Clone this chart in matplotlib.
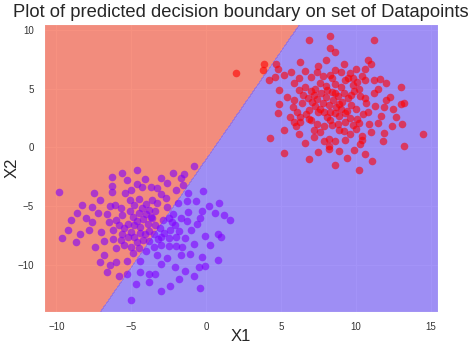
import numpy as np
import matplotlib
matplotlib.use('Agg')
import matplotlib.pyplot as plt
import seaborn as sns
from matplotlib.colors import ListedColormap

# points, class 0 (red)
red_x = [2.0, 3.9, 3.8, 4.7, 4.8, 4.6, 4.2, 5.2, 6.9, 8.3, 11.2, 8.3, 8.6, 6.3, 8.0, 9.2, 10.8, 11.0, 10.6, 10.0,
         7.5, 8.6, 7.4, 7.0, 6.2, 8.3, 8.4, 9.5, 9.8, 9.3, 10.1, 10.6, 11.2, 11.6, 12.0, 13.0, 5.9, 6.6, 4.9, 6.2,
         4.9, 4.8, 5.8, 5.2, 4.3, 6.6, 5.2, 10.6, 10.3, 10.4, 11.0, 11.9, 13.2, 14.5, 13.0, 13.2, 12.5, 11.9, 11.7, 11.5,
         10.8, 10.7, 10.6, 10.3, 10.1, 10.2, 9.8, 9.3, 9.0, 8.6, 8.3,
         5.9, 6.3, 6.9, 7.2, 7.6, 7.9, 8.2, 8.6, 8.9, 9.3, 8.9, 8.2,
         7.0, 7.2, 6.8, 7.1, 7.4, 7.3, 6.9, 7.5, 7.8, 7.7, 8.0, 8.2, 8.1, 8.4, 8.5, 8.7, 8.8, 8.9, 9.1, 9.2,
         9.4, 9.5, 9.6, 9.7, 9.9, 10.0, 10.2, 9.8, 9.0, 8.6, 8.0, 7.6, 7.3, 6.5, 6.4, 6.7, 6.3, 7.0, 7.4, 7.9,
         8.4, 8.8, 9.2, 9.6, 10.0, 10.4, 6.0, 5.6, 5.4, 5.9, 6.1, 11.2, 11.5, 12.3, 12.7, 13.1, 11.8, 12.4, 9.0, 9.6,
         10.4, 7.8, 6.6, 5.7, 8.2, 7.2, 6.2, 9.9, 11.1, 9.4, 7.5, 6.9, 8.6, 10.2, 8.1, 8.9, 9.3, 7.6, 8.3, 10.5,
         10.9, 11.3, 12.0, 7.9, 9.7, 8.6]
red_y = [6.3, 7.1, 6.6, 7.1, 6.7, 6.0, 5.7, 6.2, 9.1, 9.5, 9.1, 8.5, 8.1, 7.3, 7.4, 7.1, 7.4, 7.1, 6.7, 6.7,
         6.9, 6.6, 6.4, 6.0, 5.9, 6.2, 5.9, 5.9, 5.9, 5.7, 5.6, 5.7, 5.7, 5.8, 5.5, 5.1, 5.5, 5.1, 4.9, 4.9,
         3.7, 2.9, 3.4, 1.5, 0.8, 0.4, -0.5, -0.6, 0.3, 0.6, 1.3, 1.2, 0.1, 1.1, 3.7, 3.8, 3.3, 3.4, 2.7, 2.1,
         3.0, 3.8, 4.2, 4.4, 2.4, 2.1, 1.9, 2.2, 3.3, 2.9, 3.0,
         2.2, 2.6, 2.4, 1.5, 1.3, 0.5, 0.7, 0.5, 1.5, 0.6, -0.3, -0.1,
         4.8, 4.5, 4.2, 3.9, 4.1, 3.5, 3.2, 3.0, 3.8, 4.6, 4.3, 3.6, 2.6, 4.7, 4.0, 3.4, 4.4, 2.7, 3.9, 4.6,
         3.1, 4.2, 2.5, 3.6, 4.8, 3.3, 5.0, 5.3, 5.1, 5.4, 5.2, 5.5, 5.0, 4.5, 3.8, 2.8, 2.2, 2.3, 2.0, 1.8,
         1.9, 2.0, 1.4, 1.1, 1.6, 1.0, 1.8, 2.6, 4.3, 4.0, 3.0, 4.6, 5.0, 4.3, 2.6, 2.0, 0.5, 1.8, 6.4, 6.3,
         6.1, 6.1, 6.5, 6.4, 0.1, 0.9, 1.1, -0.2, -1.2, -0.9, -0.4, -1.0, -1.5, -1.9, 4.9, 3.7, 2.9, 3.3, 2.3, 2.8,
         2.0, 3.5, 4.0, 3.0, 4.5, 4.6]

# class 1 (purple)
pur_x = [-9.8, -6.25, -4.6, -0.8, -5.25, -4.6, -4.3, -5.0, -5.4, -6.25, -3.7, -3.3, -2.6, -2.0, -1.7, -1.5, -1.55, -7.1, -8.25, -7.6,
         -6.1, -5.1, -4.5, -4.0, -3.6, -3.3, -2.7, -1.9, -1.3, -0.7, 0.9, -0.3, 0.6, -0.4, -1.3, -1.7, -2.2, -2.3, -8.0, -7.6,
         -6.6, -6.5, -6.0, -5.6, -4.9, -4.5, -4.0, -3.8, -3.4, -2.9, -3.4, -9.2, -7.0, -6.2, -5.5, -5.0, -4.4, -3.8, -3.1,
         -9.6, -8.7, -6.8, -7.1, -6.4, -6.0, -5.25, -4.9, -4.4, -4.0, -5.25, -4.4, -3.8, -3.4, -3.8, -2.4, -5.0, -3.0, -0.5, -0.1,
         -0.3, 0.8, 1.0, 0.8, 0.3, -0.1, -0.8, -1.1, -1.7, -1.6, -2.0, -2.5, -3.0, -3.5, -2.5, -2.0, -6.2, -5.7, -5.2, -4.8,
         -4.2, -6.8,
         -4.6, -4.2, -3.9, -3.6, -5.2, -5.8, -4.8, -4.1, -3.5, -3.2, -2.8, -2.4, -2.1, -1.8, -1.4, -1.0, -0.6, -1.2, -2.6, -3.0,
         -4.8, -5.7, -6.4, -7.2, -7.8, -8.4, -7.4, -6.0, -5.5, -5.0, -4.6, -3.8, -3.3, -2.6, -2.1, -1.4, -0.8, -1.8, -6.3, -5.6,
         -4.1, -3.0, -2.2, -1.2, -0.2, 0.2, 1.6, 1.2, -7.5, -8.6, -9.0, -6.6, -5.8, -4.7, -3.0, -0.4, -4.3, -3.7, -5.1, -2.5,
         -4.4, -3.0, -5.6, -4.5]
pur_y = [-3.8, -2.5, -1.9, -1.6, -2.8, -3.15, -3.4, -3.6, -3.9, -3.8, -3.35, -3.5, -3.0, -3.6, -2.6, -2.3, -3.2, -4.5, -4.9, -5.1,
         -4.9, -4.5, -4.4, -4.8, -4.5, -4.7, -4.3, -4.7, -4.6, -4.6, -4.7, -5.4, -5.6, -6.0, -6.3, -6.0, -5.7, -6.4, -6.0, -6.4,
         -5.7, -6.4, -6.2, -5.8, -5.9, -5.6, -5.7, -5.3, -5.4, -6.2, -6.6, -7.0, -7.2, -7.0, -6.9, -7.2, -6.8, -7.1, -6.9,
         -7.7, -8.1, -9.2, -9.8, -10.0, -9.8, -9.7, -9.0, -9.7, -8.8, -10.8, -10.6, -10.8, -10.8, -11.5, -11.8, -13.0, -9.9, -10.2, -10.1,
         -9.3, -9.6, -7.6, -7.4, -8.3, -7.55, -8.2, -9.1, -9.2, -8.5, -8.4, -8.4, -8.3, -8.5, -7.7, -7.6, -7.8, -7.9, -7.6, -7.6,
         -7.9, -8.0,
         -6.3, -6.1, -6.5, -6.0, -6.5, -6.6, -6.6, -7.4, -7.4, -7.8, -7.3, -7.0, -6.6, -7.1, -7.7, -7.0, -6.5, -5.5, -5.1, -4.0,
         -4.9, -5.2, -5.0, -5.6, -7.0, -7.4, -8.5, -8.6, -8.3, -8.5, -8.1, -8.0, -9.2, -9.4, -10.2, -10.5, -11.0, -11.2, -3.3, -2.2,
         -2.7, -2.6, -2.2, -3.9, -3.7, -5.0, -6.2, -5.8, -3.9, -5.6, -6.2, -10.6, -11.0, -11.6, -12.2, -12.0, -5.2, -5.9, -5.4, -6.0,
         -7.3, -7.6, -7.4, -8.6]

# linear boundary: class 1 where 1.84*x1 - x2 - 1.05 > 0
coef = [1.84, -1.0]
intercept = -1.05

X = np.column_stack([red_x + pur_x, red_y + pur_y])
y = np.array([0] * len(red_x) + [1] * len(pur_x))

sns.set_style('darkgrid')
plt.rcParams['font.family'] = ['Liberation Sans', 'DejaVu Sans']

fig = plt.figure(figsize=(4.74, 3.5), dpi=100)
ax = fig.add_axes([0.0935, 0.1094, 0.83, 0.8212])

X1, X2 = np.meshgrid(np.arange(X[:, 0].min() - 1, X[:, 0].max() + 1, 0.02),
                     np.arange(X[:, 1].min() - 1, X[:, 1].max() + 1, 0.02))
Z = (coef[0] * X1 + coef[1] * X2 + intercept > 0).astype(int)
ax.contourf(X1, X2, Z, levels=[-0.5, 0.5, 1.5], alpha=0.75,
            cmap=ListedColormap(('#f56d56', '#856ff6')))
ax.set_xlim(X1.min(), X1.max())
ax.set_ylim(X2.min(), X2.max())

ax.scatter(X[y == 0, 0], X[y == 0, 1], c='red', s=30, alpha=0.6, linewidths=0)
ax.scatter(X[y == 1, 0], X[y == 1, 1], c='#8000ff', s=30, alpha=0.6, linewidths=0)

ax.set_xticks([-10, -5, 0, 5, 10, 15])
ax.set_yticks([-10, -5, 0, 5, 10])
ax.tick_params(labelsize=7, colors='#333333', pad=4)
ax.set_title('Plot of predicted decision boundary on set of Datapoints', fontsize=13.2, pad=5)
ax.set_xlabel('X1', fontsize=12)
ax.set_ylabel('X2', fontsize=12)
ax.xaxis.set_label_coords(0.5, -0.06)
ax.yaxis.set_label_coords(-0.062, 0.5)

fig.savefig('out.png', dpi=100)
